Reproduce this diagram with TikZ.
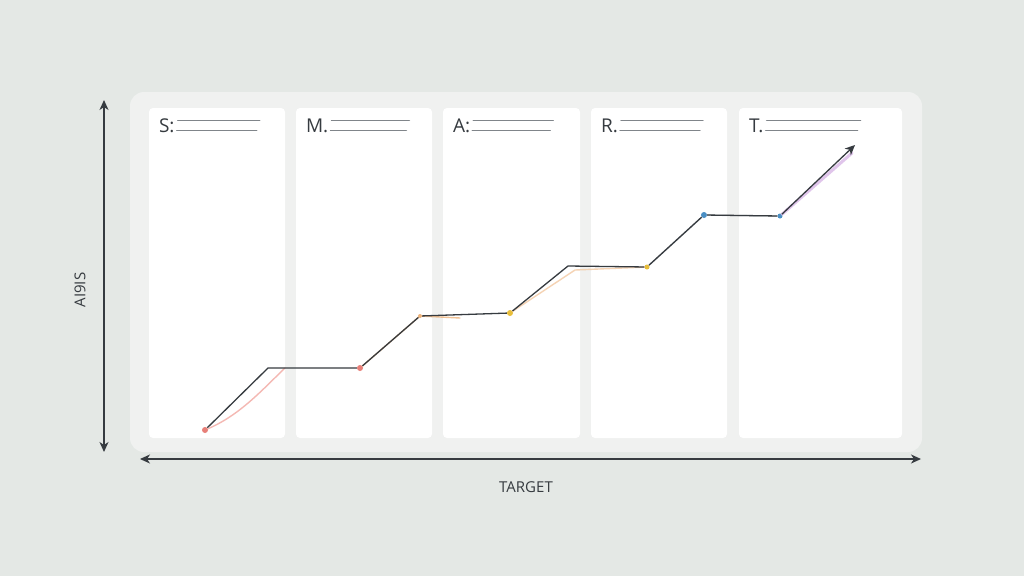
\documentclass[tikz,border=0pt]{standalone}
\usepackage{fontspec}
\setmainfont{Open Sans}
\usetikzlibrary{arrows.meta,positioning}

\definecolor{bgcol}{HTML}{E4E8E5}
\definecolor{panelcol}{HTML}{F0F1F0}
\definecolor{inkcol}{HTML}{363B40}
\definecolor{rulecol}{HTML}{80858A}
\definecolor{pinkcol}{HTML}{F2A7A0}
\definecolor{redcol}{HTML}{E77F78}
\definecolor{orangecol}{HTML}{EDB27A}
\definecolor{yellowcol}{HTML}{E8BE3A}
\definecolor{bluecol}{HTML}{4A8FC4}
\definecolor{lilaccol}{HTML}{D9B7E6}

\begin{document}
\begin{tikzpicture}
  [x=1pt,y=-1pt,>={Stealth[length=10pt,width=9pt,inset=3pt]},
  column/.style={fill=white,rounded corners=4pt,minimum width=#1,
    minimum height=330pt,inner sep=0pt},
  column/.default=136pt,
  letter/.style={anchor=west,inner sep=0pt,text=inkcol,font=\fontsize{19}{20}\selectfont},
  header line/.style={draw=rulecol,line width=1.3pt,line cap=round},
  axis/.style={<->,draw=inkcol,line width=1.3pt},
  trend/.style={draw=inkcol,line width=1.3pt,line join=round},
  shade/.style={line width=1.4pt,line cap=round,opacity=.8},
  dot/.style={circle,fill=#1,inner sep=0pt,minimum size=6pt}]
  \fill [bgcol] (0,0) rectangle (1024,576);
  \useasboundingbox (0,0) rectangle (1024,576);

  % panel and columns
  \node (panel) [fill=panelcol,rounded corners=14pt,minimum width=792pt,
    minimum height=360pt] at (526,272) {};
  \node [column] (colS) at (217,273) {};
  \node [column] (colM) at (364,273) {};
  \node [column=137pt] (colA) at (511.5,273) {};
  \node [column] (colR) at (659,273) {};
  \node [column=163pt] (colT) at (820.5,273) {};

  % headers
  \foreach \col/\txt/\len in {S/S:/82,M/M./78,A/A:/80,R/R./82,T/T./94} {
    \node [letter] (lab\col) at ([xshift=10pt,yshift=-18pt]col\col.north west) {\txt};
    \draw [header line] ([xshift=3pt,yshift=5pt]lab\col.east) -- +(\len,0);
    \draw [header line] ([xshift=2pt,yshift=-5pt]lab\col.east) -- +(\len-2,0);
  }

  % axes
  \coordinate (ytop) at (104,100);
  \coordinate (ybot) at (104,452);
  \coordinate (xleft) at (140,459);
  \coordinate (xright) at (921,459);
  \draw [axis] (ybot) -- (ytop);
  \draw [axis] (xleft) -- (xright);
  \node [rotate=90,text=inkcol,font=\fontsize{15}{16}\selectfont] (ylab) at (80,290) {AI9IS};
  \node [text=inkcol,font=\fontsize{15}{16}\selectfont] (xlab) at (526,487) {TARGET};

  % trend points
  \node [dot=redcol] (p1) at (205,430) {};
  \coordinate (p2) at (268,368);
  \node [dot=redcol] (p3) at (360,368) {};
  \node [dot=orangecol,minimum size=4pt] (p4) at (420,316) {};
  \node [dot=yellowcol] (p5) at (510,313) {};
  \coordinate (p6) at (568,266);
  \node [dot=yellowcol,minimum size=5pt] (p7) at (647,267) {};
  \node [dot=bluecol] (p8) at (704,215) {};
  \node [dot=bluecol,minimum size=5pt] (p9) at (780,216) {};
  \coordinate (p10) at (855,145);

  % coloured strokes under the line
  \draw [shade,pinkcol] (p1) .. controls (240,415) and (262,390) .. (285,368);
  \draw [shade,orangecol] ([yshift=-2pt]p3) -- ([xshift=3pt,yshift=-4pt]p4) -- (460,318);
  \draw [shade,orangecol!70] ([yshift=-2pt]p5) -- (575,270) -- (p7);
  \draw [shade,rulecol!50] ([yshift=-2pt]p7) -- ([xshift=4pt,yshift=-6pt]p8) -- (p9);
  \draw [shade,lilaccol,line width=3pt] ([xshift=2pt,yshift=-2pt]p9) -- ([xshift=-3pt,yshift=-8pt]p10);

  % trend line
  \draw [trend] (p1) -- (p2) -- (p3) -- (p4) -- (p5) -- (p6) -- (p7)
    -- (p8) -- (p9);
  \draw [trend,->] (p9) -- (p10);
\end{tikzpicture}
\end{document}
